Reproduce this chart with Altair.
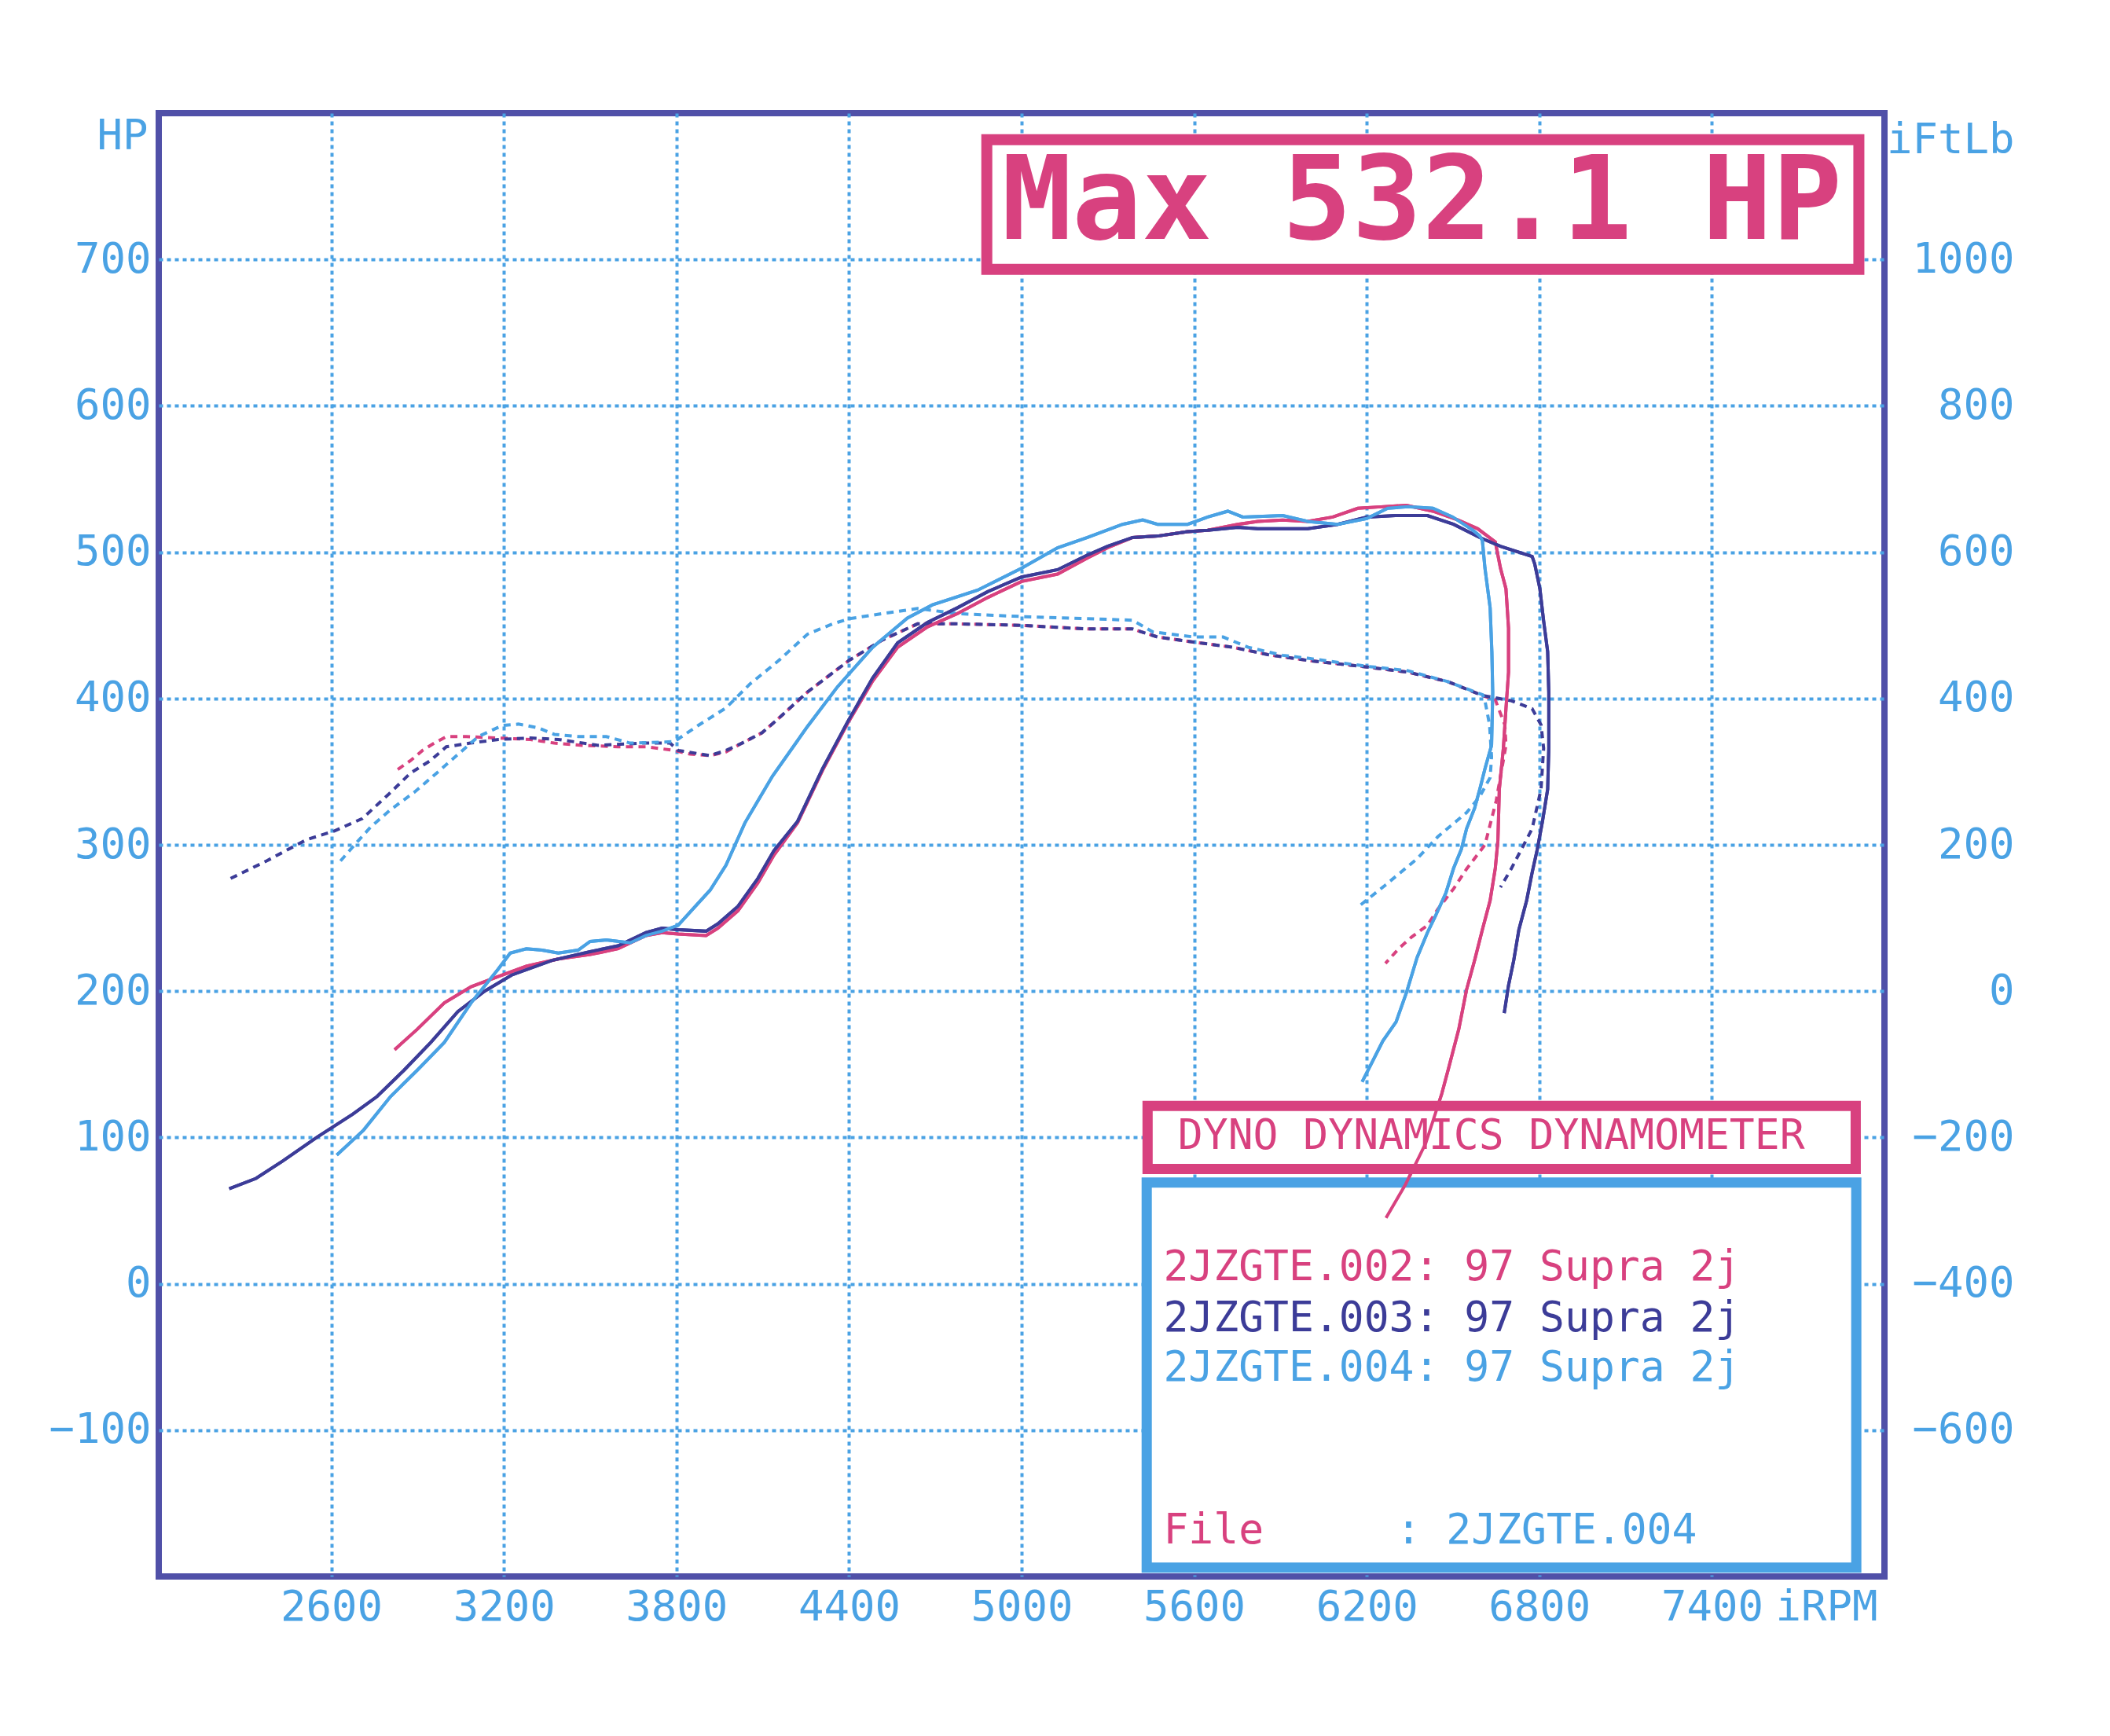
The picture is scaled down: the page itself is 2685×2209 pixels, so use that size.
import altair as alt
import pandas as pd

# ---------------- data ----------------
runs = ["2JZGTE.002", "2JZGTE.003", "2JZGTE.004"]

# power (HP) traces, in drawing order (run-up then run-down)
p002_rpm = [2820, 2899, 2993, 3086, 3180, 3278, 3389, 3500, 3597, 3694,
            3750, 3806, 3903, 3944, 4014, 4083, 4139, 4221, 4308, 4395,
            4482, 4569, 4673, 4777, 4882, 5000, 5125, 5229, 5299, 5386,
            5473, 5577, 5647, 5751, 5821, 5908, 5995, 6082, 6169, 6250,
            6338, 6430, 6517, 6586, 6647, 6665, 6684, 6693, 6693, 6684,
            6675, 6661, 6656, 6647, 6629, 6602, 6575, 6547, 6520, 6484,
            6461, 6405, 6335, 6267]
p002_hp = [160, 174, 192, 203, 210, 217, 222, 225, 229, 238,
           240, 239, 238, 243, 255, 274, 293, 315, 351, 383,
           412, 435, 449, 458, 469, 480, 485, 496, 503, 510,
           511, 514, 515, 519, 521, 522, 521, 524, 530, 531,
           532, 528, 522, 516, 507, 489, 475, 448, 418, 393,
           366, 338, 303, 284, 262, 242, 221, 201, 174, 147,
           130, 96, 68, 45]

p003_rpm = [2245, 2338, 2432, 2549, 2675, 2759, 2853, 2946, 3040, 3133,
            3227, 3367, 3500, 3597, 3694, 3750, 3806, 3903, 3944, 4014,
            4083, 4139, 4221, 4308, 4395, 4482, 4569, 4673, 4777, 4882,
            5000, 5125, 5229, 5299, 5386, 5473, 5577, 5647, 5751, 5821,
            5908, 5995, 6099, 6200, 6300, 6411, 6502, 6593, 6665, 6775,
            6784, 6802, 6815, 6829, 6833, 6833, 6829, 6811, 6793, 6775,
            6756, 6729, 6711, 6693, 6678]
p003_hp = [65, 72, 84, 100, 116, 128, 146, 165, 186, 200,
           211, 221, 227, 231, 240, 243, 242, 241, 246, 258,
           277, 296, 316, 352, 384, 414, 438, 452, 462, 473,
           483, 488, 498, 504, 510, 511, 514, 515, 517, 516,
           516, 516, 519, 524, 525, 525, 519, 510, 504, 497,
           492, 475, 453, 432, 404, 366, 338, 316, 297, 281,
           262, 242, 221, 204, 185]

p004_rpm = [2619, 2712, 2806, 2899, 2993, 3086, 3180, 3222, 3278, 3333,
            3389, 3458, 3500, 3556, 3639, 3694, 3750, 3806, 3861, 3917,
            3972, 4038, 4134, 4256, 4360, 4482, 4603, 4690, 4847, 5000,
            5125, 5229, 5351, 5421, 5473, 5577, 5647, 5717, 5769, 5908,
            5995, 6099, 6200, 6273, 6343, 6430, 6499, 6569, 6593, 6602,
            6611, 6629, 6635, 6638, 6634, 6611, 6593, 6575, 6547, 6529,
            6502, 6475, 6438, 6411, 6375, 6338, 6302, 6256, 6184]
p004_hp = [88, 105, 128, 146, 165, 192, 215, 226, 229, 228,
           226, 228, 234, 235, 233, 238, 241, 245, 257, 269,
           286, 315, 347, 381, 408, 435, 455, 464, 474, 489,
           503, 510, 519, 522, 519, 519, 524, 528, 524, 525,
           521, 519, 523, 530, 531, 530, 524, 515, 511, 508,
           489, 462, 432, 404, 368, 352, 338, 325, 311, 297,
           284, 267, 251, 240, 223, 199, 179, 166, 138]

# torque (ft-lb) traces
t002_rpm = [2831, 2875, 2917, 2958, 3000, 3069, 3181, 3292, 3375, 3472,
            3597, 3694, 3792, 3847, 3917, 3972, 4028, 4097, 4153, 4256,
            4400, 4516, 4638, 4777, 5000, 5229, 5386, 5473, 5600, 5734,
            5856, 5995, 6200, 6343, 6482, 6603, 6647, 6680, 6684, 6650,
            6611, 6584, 6547, 6502, 6447, 6411, 6356, 6311, 6265]
t002_tq = [303, 315, 329, 339, 348, 348, 346, 344, 339, 336,
           334, 334, 329, 324, 322, 327, 339, 353, 372, 409,
           452, 480, 502, 502, 500, 495, 495, 484, 477, 470,
           460, 452, 443, 436, 423, 404, 398, 364, 336, 260,
           200, 186, 167, 140, 112, 90, 74, 58, 38]

t003_rpm = [2250, 2375, 2514, 2611, 2708, 2799, 2875, 2944, 3000, 3083,
            3181, 3292, 3389, 3528, 3681, 3778, 3806, 3917, 3972, 4028,
            4097, 4153, 4256, 4400, 4516, 4638, 4777, 5000, 5229, 5386,
            5473, 5600, 5734, 5856, 5995, 6200, 6343, 6482, 6603, 6702,
            6775, 6806, 6815, 6806, 6775, 6738, 6702, 6665]
t003_tq = [154, 178, 207, 219, 236, 269, 298, 315, 334, 339,
           344, 346, 344, 336, 339, 339, 329, 322, 329, 339,
           353, 372, 409, 452, 480, 502, 502, 500, 495, 495,
           484, 477, 470, 460, 452, 443, 436, 423, 404, 397,
           386, 364, 332, 276, 222, 194, 167, 142]

t004_rpm = [2632, 2681, 2736, 2806, 2889, 2972, 3056, 3111, 3194, 3250,
            3319, 3375, 3458, 3556, 3639, 3792, 3875, 3972, 4056, 4153,
            4256, 4343, 4400, 4516, 4638, 4777, 5000, 5229, 5386, 5456,
            5600, 5701, 5788, 5908, 5995, 6200, 6343, 6482, 6603, 6611,
            6627, 6634, 6629, 6593, 6547, 6447, 6375, 6265, 6179]
t004_tq = [178, 200, 224, 248, 272, 300, 329, 348, 363, 365,
           360, 351, 348, 348, 339, 341, 363, 387, 420, 451,
           488, 502, 509, 516, 523, 516, 512, 509, 507, 491,
           484, 484, 470, 459, 455, 444, 438, 423, 405, 397,
           364, 320, 292, 266, 244, 211, 181, 145, 118]

# axes
x_ticks = [2600, 3200, 3800, 4400, 5000, 5600, 6200, 6800, 7400]
hp_ticks = [-100, 0, 100, 200, 300, 400, 500, 600, 700]
tq_ticks = [-600, -400, -200, 0, 200, 400, 600, 800, 1000]

# annotation texts
title_text = "Max 532.1 HP"
header_text = "DYNO DYNAMICS DYNAMOMETER"
legend_lines = ["2JZGTE.002: 97 Supra 2j", "2JZGTE.003: 97 Supra 2j", "2JZGTE.004: 97 Supra 2j"]
file_label = "File"
file_value = ": 2JZGTE.004"

# ---------------- styling / layout ----------------
PINK = "#d8417f"
NAVY = "#3c3c98"
SKY = "#4aa2e4"
FRAME = "#5050a8"
FONT = "DejaVu Sans Mono"

RPM_DOMAIN = [2000, 8000]
HP_DOMAIN = [-200, 800]
TQ_DOMAIN = [-800, 1200]

# annotation placements in data units (rpm, hp)
title_box = dict(rpm=4879, rpm2=7911, y=781.9, y2=693.3)
title_pos = dict(rpm=6392, hp=737.5)
header_box = dict(rpm=5438, rpm2=7900, y=121.5, y2=78.4)
header_pos = dict(rpm=6633, hp=101)
legend_box = dict(rpm=5435, rpm2=7902, y=69.2, y2=-193.9)
legend_x = 5493
legend_y = [11.2, -23.6, -57.5]
file_y = -168.6
file_value_x = 6302


def trace(rpms, vals, run, name):
    return pd.DataFrame({"rpm": rpms, name: vals, "run": run, "i": list(range(len(rpms)))})


power = pd.concat([
    trace(p002_rpm, p002_hp, runs[0], "hp"),
    trace(p003_rpm, p003_hp, runs[1], "hp"),
    trace(p004_rpm, p004_hp, runs[2], "hp"),
])
torque = pd.concat([
    trace(t002_rpm, t002_tq, runs[0], "tq"),
    trace(t003_rpm, t003_tq, runs[1], "tq"),
    trace(t004_rpm, t004_tq, runs[2], "tq"),
])

run_color = alt.Color("run:N", scale=alt.Scale(domain=runs, range=[PINK, NAVY, SKY]), legend=None)

x_axis = alt.Axis(
    values=x_ticks, grid=True, gridColor=SKY, gridDash=[5, 5], gridWidth=4,
    domain=False, ticks=False, tickSize=0, labelPadding=12, labelFontSize=54,
    labelColor=SKY, labelFont=FONT, labelFlush=False, format="d",
    title="iRPM", titleAngle=0, titleX=2187, titleY=12, titleAlign="right",
    titleBaseline="top", titleFont=FONT, titleFontSize=54, titleColor=SKY,
    titleFontWeight="normal",
)
x_scale = alt.Scale(domain=RPM_DOMAIN, nice=False, zero=False)
x_enc = alt.X("rpm:Q", scale=x_scale, axis=x_axis)

hp_scale = alt.Scale(domain=HP_DOMAIN, nice=False, zero=False)

power_lines = alt.Chart(power).mark_line(strokeWidth=4, clip=True).encode(
    x=x_enc,
    y=alt.Y(
        "hp:Q", scale=hp_scale,
        axis=alt.Axis(
            orient="left", values=hp_ticks, grid=True, gridColor=SKY, gridDash=[5, 5],
            gridWidth=4, domain=False, ticks=False, tickSize=0, labelPadding=10,
            labelFontSize=54, labelColor=SKY, labelFont=FONT, format="d",
            title="HP", titleAngle=0, titleAlign="right", titleBaseline="middle",
            titleX=-14, titleY=29, titleFont=FONT, titleFontSize=54, titleColor=SKY,
            titleFontWeight="normal",
        ),
    ),
    color=run_color,
    detail="run:N",
    order="i:Q",
)

torque_lines = alt.Chart(torque).mark_line(strokeWidth=4, strokeDash=[9, 7], clip=True).encode(
    x=x_enc,
    y=alt.Y(
        "tq:Q", scale=alt.Scale(domain=TQ_DOMAIN, nice=False, zero=False),
        axis=alt.Axis(
            orient="right", values=tq_ticks, grid=False, domain=False, ticks=False,
            tickSize=0, labelAlign="right", labelPadding=165, labelFontSize=54,
            labelColor=SKY, labelFont=FONT, format="d",
            title="iFtLb", titleAngle=0, titleAlign="right", titleBaseline="middle",
            titleX=165, titleY=34, titleFont=FONT, titleFontSize=54, titleColor=SKY,
            titleFontWeight="normal",
        ),
    ),
    color=run_color,
    detail="run:N",
    order="i:Q",
)


def box(spec, color, width):
    df = pd.DataFrame([spec])
    return alt.Chart(df).mark_rect(fill="white", stroke=color, strokeWidth=width).encode(
        x=x_enc,
        x2="rpm2:Q",
        y=alt.Y("y:Q", scale=hp_scale, axis=None),
        y2="y2:Q",
    )


def label(df, size, weight="normal", align="left"):
    return alt.Chart(df).mark_text(
        font=FONT, fontSize=size, fontWeight=weight, align=align, baseline="middle"
    ).encode(
        x=x_enc,
        y=alt.Y("hp:Q", scale=hp_scale, axis=None),
        text="t:N",
        color=alt.Color("c:N", scale=None),
    )


title_df = pd.DataFrame([{"rpm": title_pos["rpm"], "hp": title_pos["hp"], "t": title_text, "c": PINK}])
header_df = pd.DataFrame([{"rpm": header_pos["rpm"], "hp": header_pos["hp"], "t": header_text, "c": PINK}])
legend_df = pd.DataFrame({
    "rpm": [legend_x] * 3 + [legend_x, file_value_x],
    "hp": legend_y + [file_y, file_y],
    "t": legend_lines + [file_label, file_value],
    "c": [PINK, NAVY, SKY, PINK, SKY],
})

chart = alt.layer(
    power_lines,
    box(title_box, PINK, 14),
    box(header_box, PINK, 13),
    box(legend_box, SKY, 13),
    label(title_df, 148, weight="bold", align="center"),
    label(header_df, 53, align="center"),
    label(legend_df, 53),
    torque_lines,
    power_lines.encode(y=alt.Y("hp:Q", scale=hp_scale, axis=None)),
).resolve_scale(
    y="independent"
).properties(
    width=2196,
    height=1862,
    padding={"left": 194, "top": 136, "right": 279, "bottom": 195},
    autosize=alt.AutoSizeParams(type="none"),
    background="white",
).configure_view(
    stroke=FRAME, strokeWidth=8
)

chart.save("out.html", embed_options={"renderer": "svg", "actions": False})
